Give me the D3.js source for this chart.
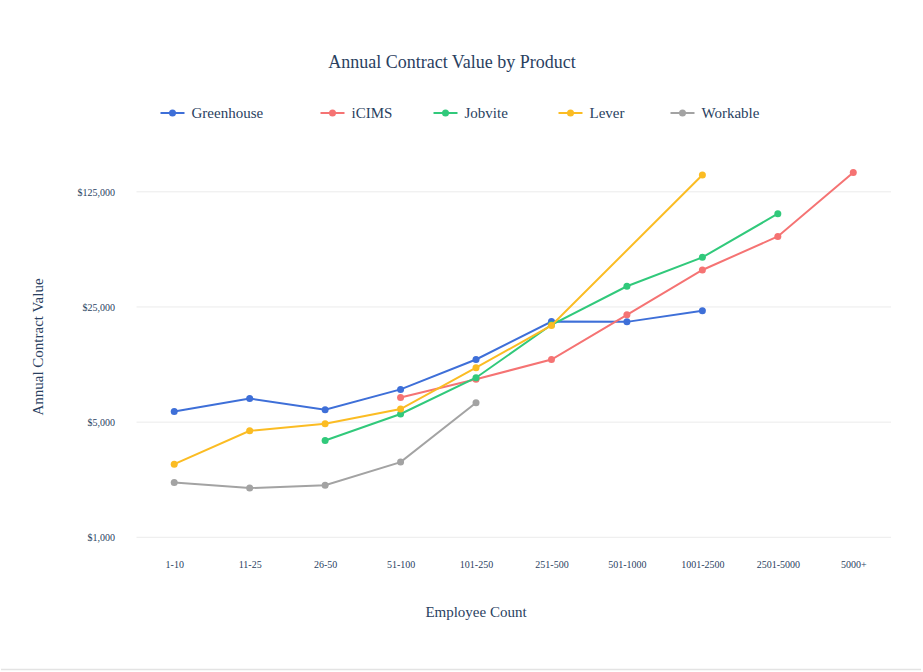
<!DOCTYPE html>
<html>
<head>
<meta charset="utf-8">
<script src="https://cdn.jsdelivr.net/npm/d3@7"></script>
<style>
  body { margin: 0; background: #fff; }
  svg text { font-family: "Liberation Serif", "Times New Roman", serif; fill: #2a3f5f; }
</style>
</head>
<body>
<div id="chart"></div>
<script>
// DATA
var categories = ["1-10", "11-25", "26-50", "51-100", "101-250", "251-500",
                  "501-1000", "1001-2500", "2501-5000", "5000+"];
var products = ["Greenhouse", "iCIMS", "Jobvite", "Lever", "Workable"];
var greenhouse = [5800, 6950, 5950, 7900, 12000, 20400, 20300, 23700, null, null];
var icims      = [null, null, null, 7050, 9100, 12000, 22400, 41900, 67000, 163500];
var jobvite    = [null, null, 3870, 5600, 9300, 19500, 33400, 50000, 92000, null];
var lever      = [2780, 4430, 4890, 6000, 10700, 19300, null, 158000, null, null];
var workable   = [2150, 1990, 2070, 2860, 6550, null, null, null, null, null];
var yTicks = [1000, 5000, 25000, 125000];

var seriesValues = [greenhouse, icims, jobvite, lever, workable];
var colors = ["#3e6fd8", "#f57373", "#31c97b", "#fbbc23", "#a3a3a3"];

// LAYOUT
var WIDTH = 923, HEIGHT = 672;
var LEFT = 136.5, RIGHT = 891;
var FONT = "Liberation Serif, Times New Roman, serif";

var svg = d3.select("#chart").append("svg")
    .attr("width", WIDTH)
    .attr("height", HEIGHT);

var xScale = d3.scalePoint()
    .domain(categories)
    .range([LEFT, RIGHT])
    .padding(0.5);

var yScale = d3.scaleLog()
    .domain([1000, 125000])
    .range([537.3, 191.8]);

// gridlines
svg.append("g").selectAll("line")
    .data(yTicks)
    .enter()
    .append("line")
    .attr("x1", LEFT)
    .attr("x2", RIGHT)
    .attr("y1", d => yScale(d))
    .attr("y2", d => yScale(d))
    .attr("stroke", "#ebebeb")
    .attr("stroke-width", 1);

// y axis
var fmt = d3.format("$,");
var yAxis = svg.append("g")
    .attr("transform", "translate(" + 115 + ",0)")
    .call(d3.axisLeft(yScale).tickValues(yTicks).tickFormat(fmt).tickSize(0).tickPadding(0));
yAxis.select(".domain").remove();
yAxis.selectAll("text")
    .style("font-size", "10px")
    .style("font-family", FONT)
    .attr("fill", "#2a3f5f");

// x axis
var xAxis = svg.append("g")
    .attr("transform", "translate(0," + 558 + ")")
    .call(d3.axisBottom(xScale).tickSize(0).tickPadding(3));
xAxis.select(".domain").remove();
xAxis.selectAll("text")
    .style("font-size", "10px")
    .style("font-family", FONT)
    .attr("fill", "#2a3f5f");

// lines (gaps are bridged)
var line = d3.line()
    .x(d => xScale(d.c))
    .y(d => yScale(d.v));

products.forEach(function(name, i) {
    var pts = categories
        .map(function(c, j) { return {c: c, v: seriesValues[i][j]}; })
        .filter(d => d.v != null);
    var g = svg.append("g");
    g.append("path")
        .datum(pts)
        .attr("d", line)
        .attr("fill", "none")
        .attr("stroke", colors[i])
        .attr("stroke-width", 2);
    g.selectAll("circle")
        .data(pts)
        .enter()
        .append("circle")
        .attr("cx", d => xScale(d.c))
        .attr("cy", d => yScale(d.v))
        .attr("r", 3.5)
        .attr("fill", colors[i]);
});

// title
svg.append("text")
    .attr("x", 452)
    .attr("y", 68)
    .attr("text-anchor", "middle")
    .style("font-family", FONT)
    .style("font-size", "18px")
    .text("Annual Contract Value by Product");

// axis titles
svg.append("text")
    .attr("x", 476)
    .attr("y", 617)
    .attr("text-anchor", "middle")
    .style("font-family", FONT)
    .style("font-size", "15px")
    .text("Employee Count");

svg.append("text")
    .attr("transform", "translate(43,347) rotate(-90)")
    .attr("text-anchor", "middle")
    .style("font-family", FONT)
    .style("font-size", "15px")
    .text("Annual Contract Value");

// legend
var legendX = [160.5, 320.5, 433.5, 558.5, 670.5];
var legend = svg.append("g").selectAll("g")
    .data(products)
    .enter()
    .append("g")
    .attr("transform", (d, i) => "translate(" + legendX[i] + ",113)");
legend.append("line")
    .attr("x1", 0).attr("x2", 24)
    .attr("stroke", (d, i) => colors[i])
    .attr("stroke-width", 2);
legend.append("circle")
    .attr("cx", 12)
    .attr("r", 3.5)
    .attr("fill", (d, i) => colors[i]);
legend.append("text")
    .attr("x", 31)
    .attr("y", 5)
    .style("font-family", FONT)
    .style("font-size", "15px")
    .text(d => d);

// bottom edge of card
svg.append("line")
    .attr("x1", 1).attr("x2", 921)
    .attr("y1", 669.5).attr("y2", 669.5)
    .attr("stroke", "#e3e3e3")
    .attr("stroke-width", 1.5);
</script>
</body>
</html>
